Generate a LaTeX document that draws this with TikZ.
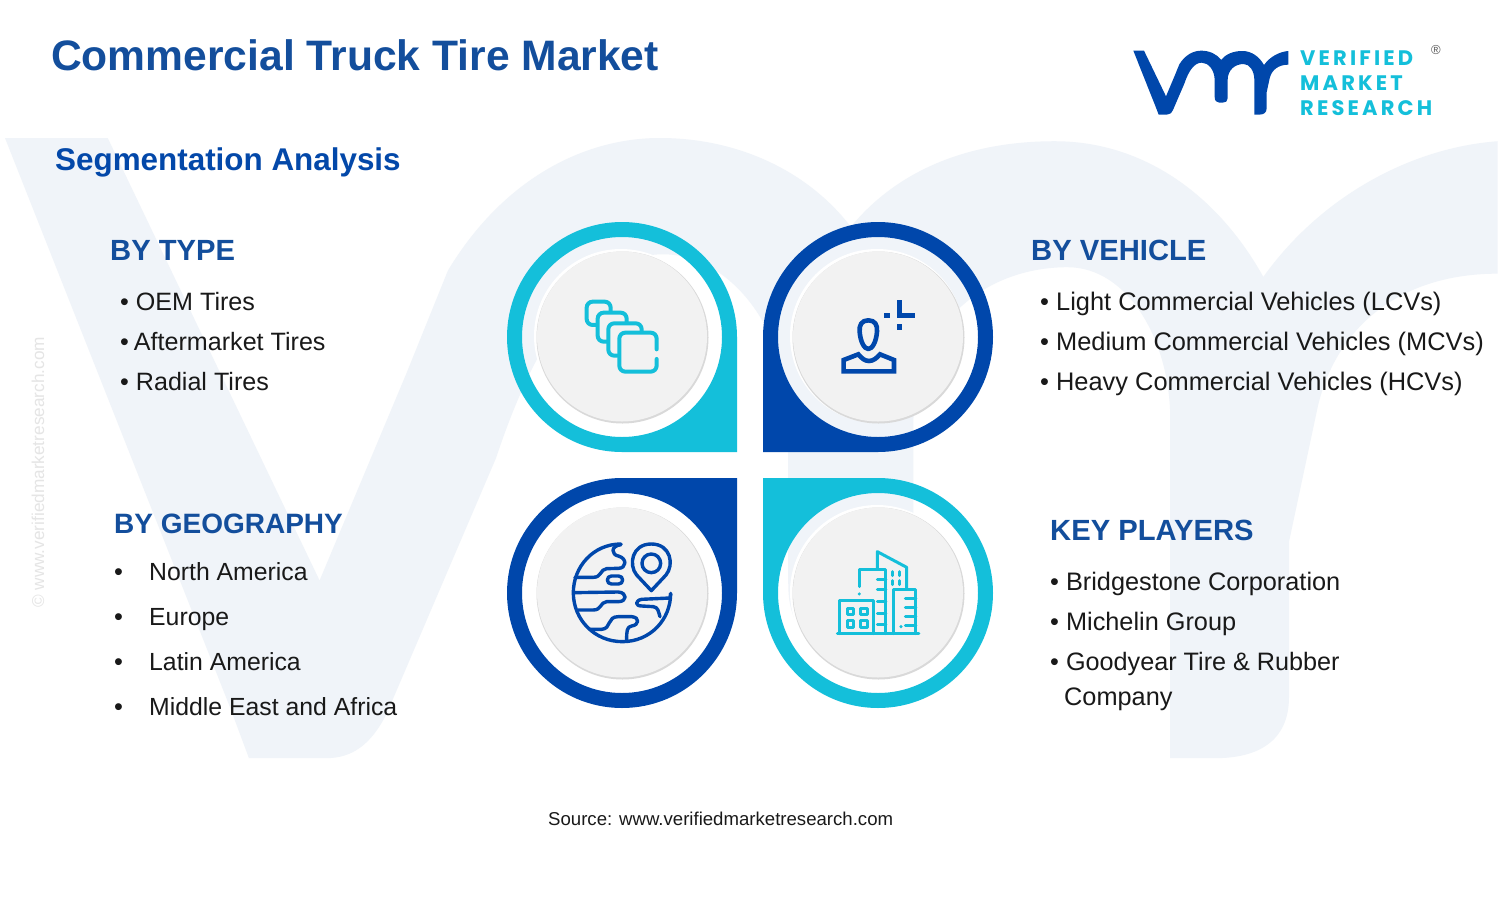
\documentclass[tikz,border=0pt]{standalone}
\usepackage{fontspec}
\setmainfont{Liberation Sans}
\newfontfamily\logofont[LetterSpace=15]{Poppins}
\definecolor{vmrblue}{HTML}{0047AB}
\definecolor{vmrteal}{HTML}{14BFDA}
\definecolor{headblue}{HTML}{134E9C}
\definecolor{markfill}{HTML}{F0F4F9}
\newcommand\DrawLogoShape[1]{% traced in zoom units
    \fill[#1] (40,62) -- (72,62) -- (138,199) -- (165,135) -- (178,103)
        .. controls (195,75) and (220,62) .. (244,62)
        .. controls (268,62) and (290,72) .. (303.5,89.5)
        .. controls (318,72) and (340,63) .. (367,63)
        .. controls (395,63) and (418,80) .. (432,105)
        .. controls (450,80) and (478,65) .. (505,63) -- (505,104)
        .. controls (475,104) and (455,120) .. (449,145) -- (440,187) -- (440,235)
        .. controls (440,249) and (430,254) .. (417,254) -- (403,254) -- (403,149)
        .. controls (403,125) and (390,102) .. (371,102)
        .. controls (345,102) and (323,120) .. (323,150) -- (323,205)
        .. controls (323,214) and (317,218) .. (308,218) -- (298,218)
        .. controls (289,218) and (284,212) .. (284,200) -- (284,150)
        .. controls (284,120) and (265,98) .. (245,98)
        .. controls (222,98) and (205,125) .. (193,161) -- (159,240)
        .. controls (154,250) and (148,254) .. (140,254) -- (116,254) -- (110,238) -- cycle;
}
\newcommand\DrawDrop[4]{% centre x, centre y, corner sign x, corner sign y
    \begin{scope}[shift={(#1,#2)},xscale=#3,yscale=#4]
        \fill[dropcol,even odd rule] (115,115) -- (0,115) arc (90:360:115) -- cycle
            (0,0) circle (100);
    \end{scope}
    \fill[white] (#1-1,#2-1) circle (87);
    \fill[diskedge] (#1+0.5,#2+0.5) circle (86);
    \fill[diskface] (#1,#2-0.5) circle (85);
}
\tikzset{%
    x=1pt,y=-1pt,
    title/.style={anchor=base west,inner sep=0pt,text=headblue,font=\bfseries\fontsize{42.6}{43}\selectfont},
    subtitle/.style={anchor=base west,inner sep=0pt,text=vmrblue!85!headblue,font=\bfseries\fontsize{31.4}{32}\selectfont},
    heading/.style={anchor=base west,inner sep=0pt,text=headblue,font=\bfseries\fontsize{29.2}{30}\selectfont},
    entry/.style={anchor=base west,inner sep=0pt,text=black!90,font=\fontsize{25.3}{26}\selectfont},
    logotext/.style={anchor=base west,inner sep=0pt,text=vmrteal,font=\logofont\bfseries\fontsize{21}{21}\selectfont},
    diskedge/.style={fill=black!15},
    diskface/.style={fill=black!5},
    icon/.style={line width=#1,line cap=round,line join=round},
}
\begin{document}
\begin{tikzpicture}

    \useasboundingbox (0,0) rectangle (1500,911);
    \fill[white] (0,0) rectangle (1500,911);

    % big pale mark behind everything
    \begin{scope}[shift={(5,138)},xscale=3.21,yscale=3.23,shift={(-40,-62)}]
        \DrawLogoShape{markfill}
    \end{scope}

    % small logo
    \begin{scope}[shift={(1120,30)},scale=0.3333]
        \DrawLogoShape{vmrblue}
    \end{scope}
    \node[logotext] (logoA) at (1300,65.5) {VERIFIED};
    \node[logotext] (logoB) at (1300,90.5) {MARKET};
    \node[logotext] (logoC) at (1300,115) {RESEARCH};
    \node[anchor=center,inner sep=0pt,text=black!65,font=\fontsize{13}{13}\selectfont] (logoR) at (1436,50) {®};

    \node[title] (titleA) at (51,70) {Commercial Truck Tire Market};
    \node[subtitle] (titleB) at (55,170) {Segmentation Analysis};

    %%%%%%%% the four drops
    \colorlet{dropcol}{vmrteal}
    \DrawDrop{622}{337}{1}{1}
    \colorlet{dropcol}{vmrblue}
    \DrawDrop{878}{337}{-1}{1}
    \DrawDrop{622}{593}{1}{-1}
    \colorlet{dropcol}{vmrteal}
    \DrawDrop{878}{593}{-1}{-1}

    % layers icon
    \begin{scope}[shift={(490,210)},scale=0.3333,vmrteal,icon=4pt,rounded corners=6pt]
        \draw (500,418) -- (500,368) -- (388,368) -- (388,485) -- (500,485) -- (500,447);
        \draw (382,437) -- (355,437) -- (355,340) -- (455,340) -- (455,366);
        \draw (350,395) -- (323,395) -- (323,308) -- (410,308) -- (410,338);
        \draw (320,345) -- (290,345) -- (290,275) -- (362,275) -- (362,306);
    \end{scope}

    % person icon
    \begin{scope}[shift={(750,210)},scale=0.3333,vmrblue,icon=4.6pt]
        \draw (355,331) .. controls (335,331) and (327,345) .. (329,365)
            .. controls (331,395) and (343,417) .. (355,417)
            .. controls (367,417) and (379,395) .. (381,365)
            .. controls (383,345) and (375,331) .. (355,331) -- cycle;
        \draw[line cap=butt,line join=miter] (281,484) -- (281,450) -- (325,433)
            .. controls (335,445) and (345,453) .. (357,453)
            .. controls (369,453) and (380,445) .. (390,433) -- (432,450) -- (432,484) -- cycle;
        \fill (403,308) rectangle (420,325);
        \fill (440,343) rectangle (457,360);
        \fill (440,270) rectangle (456,325);
        \fill (440,308) rectangle (495,325);
    \end{scope}

    % globe icon
    \begin{scope}[shift={(490,470)},scale=0.3333,vmrblue,icon=3.4pt]
        \draw (393,222) .. controls (310,222) and (250,290) .. (250,368)
            .. controls (250,450) and (315,515) .. (397,515)
            .. controls (480,515) and (542,450) .. (542,370);
        \draw (393,224) .. controls (360,228) and (365,255) .. (385,258)
            .. controls (412,265) and (410,295) .. (385,295) -- (350,296)
            .. controls (330,298) and (335,322) .. (310,322) -- (255,322);
        \draw[rounded corners=4pt] (352,318) rectangle (398,342);
        \draw (252,368) -- (385,366) .. controls (412,368) and (412,395) .. (385,395)
            -- (350,395) .. controls (330,397) and (335,420) .. (310,420) -- (265,420);
        \draw (300,478) -- (335,478) .. controls (365,476) and (350,440) .. (385,440)
            -- (425,440) .. controls (450,442) and (448,465) .. (425,468)
            .. controls (410,470) and (410,485) .. (410,510);
        \draw (542,372) -- (540,384) -- (455,388) .. controls (435,392) and (435,408) .. (455,408)
            -- (490,410) .. controls (505,412) and (505,425) .. (510,440);
        \draw (484,362) -- (440,315) .. controls (415,285) and (425,222) .. (484,222)
            .. controls (543,222) and (553,285) .. (528,315) -- cycle;
        \draw (484,280) circle (28);
    \end{scope}

    % buildings icon
    \begin{scope}[shift={(750,470)},scale=0.3333,vmrteal,icon=3pt]
        \draw (262,491) -- (507,491);
        \draw (270,491) -- (270,393) -- (372,393) -- (372,491);
        \foreach \wx in {292,332} {
            \foreach \wy in {415,452} {
                \draw (\wx,\wy) rectangle ++(20,20);
            }
        }
        \draw (328,350) -- (328,300) -- (408,300) -- (408,491);
        \fill (328,372) circle (5);
        \foreach \ty in {330,360,395,430,465} {
            \draw (382,\ty) -- (408,\ty);
        }
        \draw (382,298) -- (382,245) -- (470,292) -- (470,355);
        \foreach \wx in {428,448} {
            \foreach \wy in {305,332} {
                \draw (\wx,\wy) -- (\wx,\wy+12);
            }
        }
        \draw (432,491) -- (432,358) -- (498,358) -- (498,491);
        \foreach \ty in {385,412,440,468} {
            \draw (466,\ty) -- (498,\ty);
        }
        \fill (453,470) circle (5);
    \end{scope}

    %%%%%%%% text columns
    \node[heading] (typeH) at (110,260) {BY TYPE};
    \node[entry,font=\fontsize{25.1}{26}\selectfont] (typeA) at (120,310) {• OEM Tires};
    \node[entry,font=\fontsize{25.1}{26}\selectfont] (typeB) at (120,350) {•\kern 5pt Aftermarket Tires};
    \node[entry,font=\fontsize{25.1}{26}\selectfont] (typeC) at (120,390) {• Radial Tires};

    \node[heading] (vehH) at (1031,260) {BY VEHICLE};
    \node[entry,font=\fontsize{25.4}{26}\selectfont] (vehA) at (1040,310) {• Light Commercial Vehicles (LCVs)};
    \node[entry,font=\fontsize{25.4}{26}\selectfont] (vehB) at (1040,350) {• Medium Commercial Vehicles (MCVs)};
    \node[entry,font=\fontsize{25.4}{26}\selectfont] (vehC) at (1040,390) {• Heavy Commercial Vehicles (HCVs)};

    \node[heading,font=\bfseries\fontsize{28}{30}\selectfont] (geoH) at (114,533.5) {BY GEOGRAPHY};
    \foreach \name/\ypos/\label in {geoA/580.5/North America,geoB/625.5/Europe,geoC/670.5/Latin America,geoD/715.5/Middle East and Africa} {
        \node[entry] (\name dot) at (114,\ypos) {•};
        \node[entry,font=\fontsize{24.8}{26}\selectfont] (\name) at (149,\ypos) {\label};
    }

    \node[heading] (keyH) at (1050,540) {KEY PLAYERS};
    \node[entry] (keyA) at (1050,590) {• Bridgestone Corporation};
    \node[entry] (keyB) at (1050,630) {• Michelin Group};
    \node[entry,font=\fontsize{25.2}{26}\selectfont] (keyC) at (1050,670) {• Goodyear Tire \& Rubber};
    \node[entry] (keyD) at (1064,705) {Company};

    \node[anchor=base west,inner sep=0pt,text=black!90,font=\fontsize{18.6}{19}\selectfont] (source) at (548,825) {Source: www.verifiedmarketresearch.com};
    \node[anchor=base west,inner sep=0pt,rotate=90,text=black!10,font=\fontsize{17.2}{18}\selectfont] (stamp) at (44,608) {© www.verifiedmarketresearch.com};

\end{tikzpicture}
\end{document}
